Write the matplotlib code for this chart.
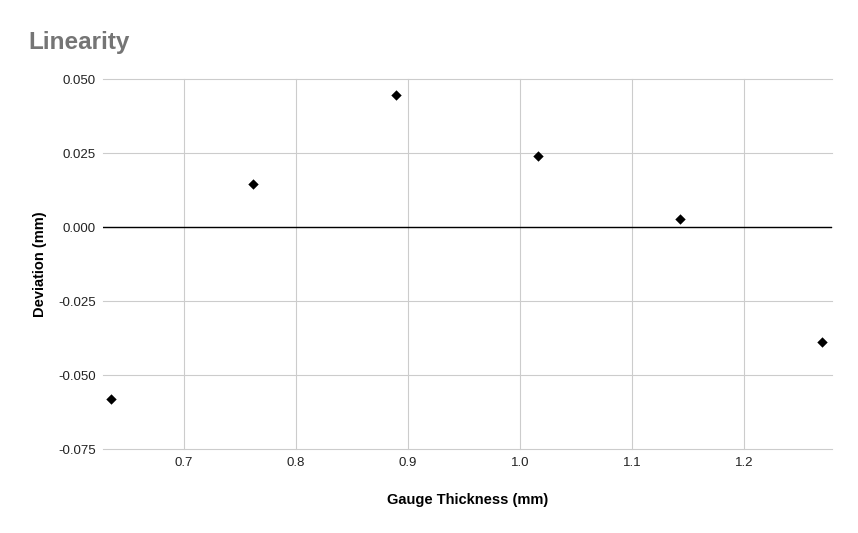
import matplotlib
matplotlib.use("Agg")
import matplotlib.pyplot as plt
from matplotlib.ticker import FixedLocator, FormatStrFormatter

plt.rcParams["font.family"] = ["Liberation Sans", "DejaVu Sans"]

# gauge thickness (mm) vs deviation (mm)
thickness = [0.635, 0.762, 0.889, 1.016, 1.143, 1.270]
deviation = [-0.0581, 0.0145, 0.0446, 0.0240, 0.0027, -0.0389]

x_ticks = [0.7, 0.8, 0.9, 1.0, 1.1, 1.2]
y_ticks = [-0.075, -0.050, -0.025, 0.0, 0.025, 0.050]

fig = plt.figure(figsize=(8.58, 5.33), dpi=100)
ax = fig.add_axes([103 / 858, 1 - 449 / 533, 729 / 858, 370 / 533])

ax.scatter(thickness, deviation, marker="D", s=28, color="black", zorder=3, linewidths=0)

ax.set_xlim(0.6277, 1.2786)
ax.set_ylim(-0.075, 0.050)
ax.xaxis.set_major_locator(FixedLocator(x_ticks))
ax.yaxis.set_major_locator(FixedLocator(y_ticks))
ax.xaxis.set_major_formatter(FormatStrFormatter("%.1f"))
ax.yaxis.set_major_formatter(FormatStrFormatter("%.3f"))

ax.grid(True, color="#cccccc", linewidth=0.8)
for gl in ax.get_xgridlines() + ax.get_ygridlines():
    gl.set_clip_on(False)
ax.axhline(0, color="black", linewidth=1, zorder=2)
for s in ax.spines.values():
    s.set_visible(False)
ax.tick_params(length=0, labelsize=9.5, colors="#222222")
ax.tick_params(axis="x", pad=6)
ax.tick_params(axis="y", pad=5)

ax.set_xlabel("Gauge Thickness (mm)", fontsize=10.5, fontweight="bold", labelpad=17)
ax.set_ylabel("Deviation (mm)", fontsize=10.5, fontweight="bold", labelpad=8)

fig.text(28 / 858, 1 - 42 / 533, "Linearity", fontsize=17.5, fontweight="bold",
         color="#757575", va="center", ha="left")

fig.savefig("out.png", dpi=100)
